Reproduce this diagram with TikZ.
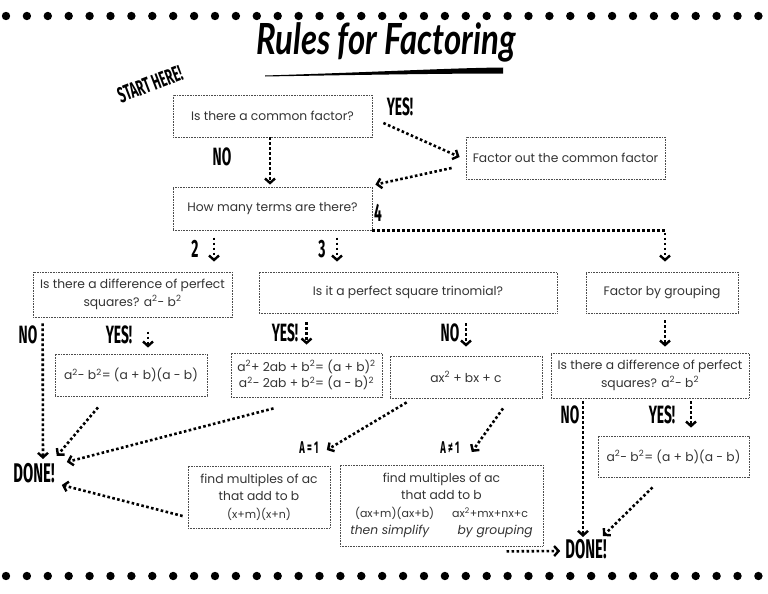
\documentclass[tikz,border=0pt]{standalone}
\usepackage{fontspec}
\setmainfont{Poppins}
\newfontfamily\tagfont[FakeStretch=0.55]{Fira Sans}
\newfontfamily\titlefont{Lato}
\usetikzlibrary{arrows.meta}

\begin{document}
\begin{tikzpicture}[x=1pt,y=-1pt,
  qbox/.style={draw=black!70,line width=0.8pt,dash pattern=on 0.8pt off 0.8pt,align=center,text=black!80,font=\fontsize{12.3}{17.5}\selectfont,inner sep=1pt},
  tag/.style={font=\tagfont\bfseries\fontsize{25}{25}\selectfont,inner sep=0pt},
  flow/.style={line width=2.6pt,dash pattern=on 2.6pt off 2.4pt,-{Straight Barb[length=4.5pt,width=10pt,line width=2.4pt]}}]
\useasboundingbox (0,0) rectangle (768,594);
\foreach \i in {0,...,36} {
  \fill (6+\i*20.9,16) circle (4.2);
  \fill (6+\i*20.9,576) circle (4.2);
}
\node[font=\titlefont\bfseries\itshape\fontsize{33}{33}\selectfont] (title) at (386,42) {\scalebox{1}[1.3]{Rules for Factoring}};
\fill (265,75.5) .. controls (380,72) and (450,68) .. (503,67.5) -- (503,73.5) .. controls (450,73.5) and (380,74.5) .. (265,76.5) -- cycle;
\node[tag,rotate=21,font=\tagfont\bfseries\fontsize{22}{22}\selectfont] (start) at (150,84) {START HERE!};

\node[qbox,minimum width=199pt,minimum height=42pt] (common) at (272.5,116) {Is there a common factor?};
\node[qbox,minimum width=199pt,minimum height=42pt] (factorout) at (565.5,158) {Factor out the common factor};
\node[qbox,minimum width=199pt,minimum height=43pt] (terms) at (272.5,208.5) {How many terms are there?};
\node[qbox,minimum width=199pt,minimum height=45pt] (diffsq) at (132.5,294.5) {Is there a difference of perfect\\squares? a\textsuperscript{2}- b\textsuperscript{2}};
\node[qbox,minimum width=298pt,minimum height=41pt] (perfsq) at (408,292.5) {Is it a perfect square trinomial?};
\node[qbox,minimum width=152pt,minimum height=41pt] (grouping) at (662,292.5) {Factor by grouping};
\node[qbox,minimum width=152pt,minimum height=42pt] (diffres) at (131,375) {a\textsuperscript{2}- b\textsuperscript{2}= (a + b)(a - b)};
\node[qbox,minimum width=151pt,minimum height=44pt,font=\fontsize{12.3}{16.5}\selectfont] (perfres) at (306.5,375) {a\textsuperscript{2}+ 2ab + b\textsuperscript{2}= (a + b)\textsuperscript{2}\\a\textsuperscript{2}- 2ab + b\textsuperscript{2}= (a - b)\textsuperscript{2}};
\node[qbox,minimum width=152pt,minimum height=42pt] (trinom) at (466,377) {ax\textsuperscript{2} + bx + c};
\node[qbox,minimum width=198pt,minimum height=45pt] (diffsqb) at (650,375.5) {Is there a difference of perfect\\squares? a\textsuperscript{2}- b\textsuperscript{2}};
\node[qbox,minimum width=151pt,minimum height=41pt] (diffresb) at (673.5,456.5) {a\textsuperscript{2}- b\textsuperscript{2}= (a + b)(a - b)};
\node[qbox,minimum width=142pt,minimum height=62pt] (multone) at (259,497) {find multiples of ac\\that add to b\\{\fontsize{11}{17.5}\selectfont (x+m)(x+n)}};
\node[qbox,minimum width=203pt,minimum height=81pt] (multa) at (441.5,505.5) {find multiples of ac\\that add to b\\
  \fontsize{11}{17.5}\selectfont(ax+m)(ax+b)\hspace{18pt}ax\textsuperscript{2}+mx+nx+c\\
  \textit{then simplify}\hspace{28pt}\textit{by grouping}};

\node[tag] (yesa) at (400,107) {YES!};
\node[tag] (noa) at (222,157) {NO};
\node[tag] (four) at (378,213) {4};
\node[tag] (two) at (195,249) {2};
\node[tag] (three) at (322,249) {3};
\node[tag] (nob) at (28,335) {NO};
\node[tag] (yesb) at (119,335) {YES!};
\node[tag] (yesc) at (285,333) {YES!};
\node[tag] (noc) at (450,333) {NO};
\node[tag] (nod) at (570,415) {NO};
\node[tag] (yesd) at (662,415) {YES!};
\node[tag,font=\tagfont\bfseries\fontsize{17}{17}\selectfont] (aone) at (309,448) {A = 1};
\node[tag,font=\tagfont\bfseries\fontsize{17}{17}\selectfont] (anot) at (450,448) {A ≠ 1};
\node[tag,font=\tagfont\bfseries\fontsize{27}{27}\selectfont] (donea) at (34,473) {DONE!};
\node[tag,font=\tagfont\bfseries\fontsize{27}{27}\selectfont] (doneb) at (586,549) {DONE!};

\draw[flow,shorten >=2pt] ([xshift=-2.5pt]common.south) -- ([xshift=-2.5pt]terms.north);
\draw[flow] ([shift={(11,7)}]common.east) -- ([shift={(-6,-1)}]factorout.west);
\draw[flow] ([shift={(-14,10)}]factorout.west) -- ([shift={(3,-2)}]terms.north east);
\draw[flow,shorten >=10pt] (terms.south east) -| ([xshift=3pt]grouping.north);
\draw[flow] ([shift={(81.5,-34)}]diffsq.north) -- ([shift={(81.5,-10)}]diffsq.north);
\draw[flow] ([shift={(-71,-34)}]perfsq.north) -- ([shift={(-71,-10)}]perfsq.north);
\draw[flow,shorten <=6pt,shorten >=4pt] ([xshift=10pt]diffsq.south west) -- ([xshift=9pt]donea.north);
\draw[flow] ([shift={(17,-22)}]diffres.north) -- ([shift={(17,-6)}]diffres.north);
\draw[flow,shorten <=9pt,shorten >=8pt] (perfsq.south -| perfres.north) -- (perfres.north);
\draw[flow,shorten <=10pt,shorten >=9pt] (perfsq.south -| trinom.north) -- (trinom.north);
\draw[flow,shorten <=7pt,shorten >=6pt] ([xshift=3pt]grouping.south) -- ([xshift=3pt]grouping.south |- diffsqb.north);
\draw[flow,shorten <=3pt,shorten >=2pt] ([xshift=-3pt]doneb.north |- diffsqb.south) -- ([xshift=-3pt]doneb.north);
\draw[flow,shorten <=3pt,shorten >=8pt] ([xshift=17.5pt]diffresb.north |- diffsqb.south) -- ([xshift=17.5pt]diffresb.north);
\draw[flow] ([shift={(-21,10)}]diffresb.south) -- ([shift={(17,-3)}]doneb.north);
\draw[flow] ([shift={(-33,11)}]diffres.south) -- ([shift={(2,-7)}]donea.north east);
\draw[flow] ([shift={(-33,11)}]perfres.south) -- ([shift={(12,-11)}]donea.east);
\draw[flow] ([shift={(17,4)}]trinom.south west) -- ([shift={(8,2)}]aone.east);
\draw[flow] ([shift={(37,10)}]trinom.south) -- ([shift={(12,4)}]anot.east);
\draw[flow] ([shift={(-5,19)}]multone.west) -- ([shift={(7,2)}]donea.south east);
\draw[flow] ([shift={(65,5)}]multa.south) -- ([shift={(-5,2)}]doneb.west);
\end{tikzpicture}
\end{document}
